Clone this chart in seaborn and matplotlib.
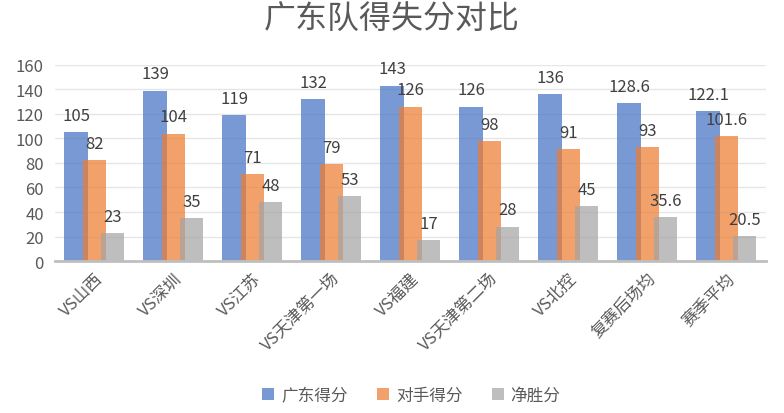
"""
Guangdong points for / against comparison chart
"""
import pandas as pd
import matplotlib
matplotlib.use('Agg')
import matplotlib.pyplot as plt
import seaborn as sns

categories = ['VS山西', 'VS深圳', 'VS江苏', 'VS天津第一场', 'VS福建',
              'VS天津第二场', 'VS北控', '复赛后场均', '赛季平均']
gd_points = [105, 139, 119, 132, 143, 126, 136, 128.6, 122.1]
opp_points = [82, 104, 71, 79, 126, 98, 91, 93, 101.6]
net_points = [23, 35, 48, 53, 17, 28, 45, 35.6, 20.5]
series = ['广东得分', '对手得分', '净胜分']
label_text = [
    ['105', '139', '119', '132', '143', '126', '136', '128.6', '122.1'],
    ['82', '104', '71', '79', '126', '98', '91', '93', '101.6'],
    ['23', '35', '48', '53', '17', '28', '45', '35.6', '20.5'],
]

sns.set_theme(style='white')
plt.rcParams['font.family'] = ['Noto Sans CJK SC', 'DejaVu Sans']

TEXT = '#595959'
palette = ['#4472C4', '#ED7D31', '#A5A5A5']

df = pd.DataFrame({
    'match': categories * 3,
    'points': gd_points + opp_points + net_points,
    'series': [s for s in series for _ in categories],
})

fig = plt.figure(figsize=(7.84, 4.14), dpi=100)
ax = fig.add_axes([0.070, 0.367, 0.907, 0.474])

sns.barplot(data=df, x='match', y='points', hue='series', hue_order=series,
            order=categories, palette=palette, width=0.69, alpha=0.72,
            saturation=1, ax=ax, legend=False)

# widen bars so neighbours overlap a little, like the original
for cont, labels in zip(ax.containers, label_text):
    for p in cont.patches:
        c = p.get_x() + p.get_width() / 2
        p.set_width(0.30)
        p.set_x(c - 0.15)
        p.set_linewidth(0)
    ax.bar_label(cont, labels=labels, padding=6, fontsize=12, color='#404040')

ax.set_ylim(0, 160)
ax.set_xlim(-0.5, len(categories) - 0.5)
ax.set_yticks(range(0, 161, 20))
ax.yaxis.grid(True, color='#E6E6E6', linewidth=1)
ax.set_axisbelow(True)
for s in ['top', 'right', 'left']:
    ax.spines[s].set_visible(False)
ax.spines['bottom'].set_color('#BFBFBF')
ax.spines['bottom'].set_linewidth(2)
ax.set_xlabel('')
ax.set_ylabel('')
ax.tick_params(axis='y', labelsize=12, colors=TEXT, length=0, pad=8)
ax.tick_params(axis='x', labelsize=12, colors=TEXT, length=0, pad=6)
plt.setp(ax.get_xticklabels(), rotation=45, ha='right', rotation_mode='anchor')

fig.suptitle('广东队得失分对比', x=0.5, y=0.99, fontsize=23, color=TEXT)

handles = [plt.Line2D([], [], marker='s', linestyle='', markersize=8,
                      markerfacecolor=c, markeredgewidth=0, alpha=0.72)
           for c in palette]
fig.legend(handles, series, loc='lower center', bbox_to_anchor=(0.525, -0.015),
           ncol=3, frameon=False, fontsize=12, labelcolor=TEXT,
           handlelength=0.7, handletextpad=0.4, columnspacing=1.8)

fig.savefig('out.png', dpi=100)
